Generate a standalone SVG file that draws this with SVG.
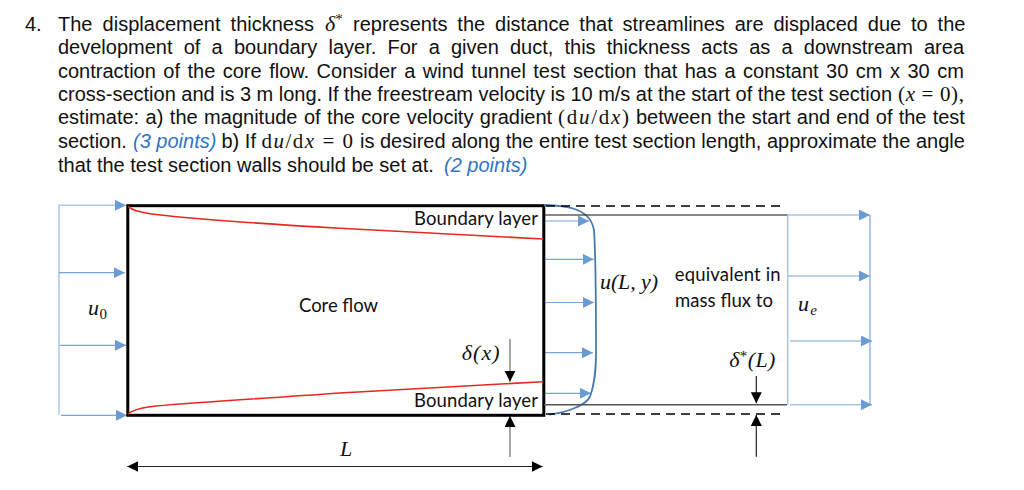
<svg xmlns="http://www.w3.org/2000/svg" width="1024" height="490" viewBox="0 0 1024 490">
<style>
.b{font-family:"Liberation Sans",Arial,sans-serif;font-size:20px;fill:#111;white-space:pre}
.p{font-family:"Liberation Sans",Arial,sans-serif;font-size:20px;font-style:italic;fill:#2f75c4}
.m{font-family:"Liberation Serif","Times New Roman",serif;font-size:21px;fill:#111}
.i{font-style:italic}
.c{font-family:Lato,"Open Sans",sans-serif;font-size:18.5px;fill:#111}
.g{font-family:"Liberation Serif","Times New Roman",serif;font-size:22px;font-style:italic;fill:#111}
.s{font-size:15px}
.a1{fill:none;stroke:#7aa5d8;stroke-width:1.2}
.a2{fill:none;stroke:#a9c5e8;stroke-width:1.5}
.k{fill:none;stroke:#222;stroke-width:1.2}
.k2{fill:none;stroke:#808080;stroke-width:1.4}
.h{marker-end:url(#hb)}
.t{marker-end:url(#hk)}
</style>
<defs>
<marker id="hb" markerUnits="userSpaceOnUse" markerWidth="12" markerHeight="12" refX="11" refY="5.5" orient="auto"><path d="M0 0L11 5.5L0 11Z" fill="#6a9bd3"/></marker>
<marker id="hk" markerUnits="userSpaceOnUse" markerWidth="12" markerHeight="12" refX="11" refY="5.5" orient="auto-start-reverse"><path d="M0 0L11 5.5L0 11Z" fill="#000"/></marker>
</defs>
<g id="question">
<text class="b" x="25" y="30.7">4.</text>
<text class="b" x="58" y="30.7" word-spacing="4.6">The displacement thickness</text>
<text class="g" x="325" y="30.7">δ<tspan class="s" dy="-7" font-style="normal">*</tspan></text>
<text class="b" x="353" y="30.7" word-spacing="4.3">represents the distance that streamlines are displaced due to the</text>
<text class="b" x="58" y="54" word-spacing="5.63">development of a boundary layer. For a given duct, this thickness acts as a downstream area</text>
<text class="b" x="58" y="77.5" word-spacing="1.92">contraction of the core flow. Consider a wind tunnel test section that has a constant 30 cm x 30 cm</text>
<text class="b" x="58" y="100.8" word-spacing="-0.1">cross-section and is 3 m long. If the freestream velocity is 10 m/s at the start of the test section</text>
<text class="m" x="898" y="100.8" xml:space="preserve" textLength="66">(<tspan class="i">x</tspan> = 0),</text>
<text class="b" x="58" y="124.3" word-spacing="0.9">estimate: a) the magnitude of the core velocity gradient</text>
<text class="m" x="558" y="124.3" textLength="71">(d<tspan class="i">u</tspan>/d<tspan class="i">x</tspan>)</text>
<text class="b" x="636" y="124.3" word-spacing="0.6">between the start and end of the test</text>
<text class="b" x="58" y="148">section.</text>
<text class="p" x="133" y="148">(3 points)</text>
<text class="b" x="221.5" y="148">b) If</text>
<text class="m" x="261.5" y="148" xml:space="preserve" textLength="91.5">d<tspan class="i">u</tspan>/d<tspan class="i">x</tspan> = 0</text>
<text class="b" x="360" y="148">is desired along the entire test section length, approximate the angle</text>
<text class="b" x="58" y="171.5">that the test section walls should be set at.</text>
<text class="p" x="444" y="171.5">(2 points)</text>
</g>
<g id="connectors">
<path class="a2" d="M59 205V415"/>
<path class="a2 h" d="M59 205.3H126"/>
<path class="a1 h" d="M59 272.7H124.7"/>
<path class="a1 h" d="M60 345.3H126"/>
<path class="a1 h" d="M61 415.3H127"/>
<path class="a1 h" d="M544 221H589"/>
<path class="a1 h" d="M544 259.3H593.7"/>
<path class="a1 h" d="M544 302.5H594"/>
<path class="a1 h" d="M544 352.7H593"/>
<path class="a1 h" d="M544 393.3H591"/>
<path class="a2" d="M787.7 215V404.7"/>
<path class="a1" d="M870 215V405"/>
<path class="a1 h" d="M787 215H870"/>
<path class="a1 h" d="M788 276H870"/>
<path class="a1 h" d="M790 341H872"/>
<path class="a2 h" d="M790 404.7H872"/>
<path class="k t" d="M127.3 466.5H542.6" style="marker-start:url(#hk)"/>
<path class="k2 t" d="M510 339V381.7"/>
<path class="k2 t" d="M510 457V416"/>
<path class="k t" d="M756.3 376V403.3"/>
<path class="k t" d="M756.3 456.7V415"/>
</g>
<g id="test-section">
<rect x="127.8" y="205.7" width="416" height="209.6" fill="none" stroke="#000" stroke-width="3"/>
<path d="M128.3 206.7C132 210 138 212 150 213.7C185 218.5 250 223 340 228.3L543 239" fill="none" stroke="#e8281e" stroke-width="1.6"/>
<path d="M127.8 414C132 410.5 140 408 150 406.7C180 403 250 399.5 340 393L543 381.7" fill="none" stroke="#e8281e" stroke-width="1.6"/>
<text class="c" x="299" y="312" textLength="79">Core flow</text>
</g>
<g id="boundary-layer-top"><text class="c" x="414" y="225" textLength="124">Boundary layer</text></g>
<g id="boundary-layer-bottom"><text class="c" x="414" y="407.3" textLength="124">Boundary layer</text></g>
<g id="velocity-profile">
<path d="M544 205C555 205.5 566 206 573 208.5C585 212 592 219 594 230C596 260 596 330 596 350C596 370 595 383 590 396.7C585 406 565 413 549 414.5" fill="none" stroke="#4a7aab" stroke-width="1.8"/>
</g>
<g id="equivalent-flow">
<path d="M544 215H787" fill="none" stroke="#111" stroke-width="1.2"/>
<path d="M544 404.7H787" fill="none" stroke="#555" stroke-width="1.4"/>
<path d="M546 206H786" fill="none" stroke="#000" stroke-width="1.5" stroke-dasharray="9 6"/>
<path d="M546 414H782" fill="none" stroke="#000" stroke-width="1.5" stroke-dasharray="9 6"/>
<text class="c" x="674.7" y="280.7" textLength="106">equivalent in</text>
<text class="c" x="675" y="307.3" textLength="98">mass flux to</text>
</g>
<g id="labels">
<text class="g" x="88" y="315" textLength="19">u<tspan class="s" dy="4" font-style="normal">0</tspan></text>
<text class="g" x="798" y="310.7" textLength="19">u<tspan class="s" dy="4">e</tspan></text>
<text class="g" x="600" y="289" textLength="58">u(L, y)</text>
<text class="g" x="461.7" y="360" textLength="38">δ(x)</text>
<text class="g" x="729.3" y="367" textLength="46">δ<tspan class="s" dy="-6" font-style="normal">*</tspan><tspan dy="6">(L)</tspan></text>
<text class="g" x="340" y="456">L</text>
</g>
</svg>
